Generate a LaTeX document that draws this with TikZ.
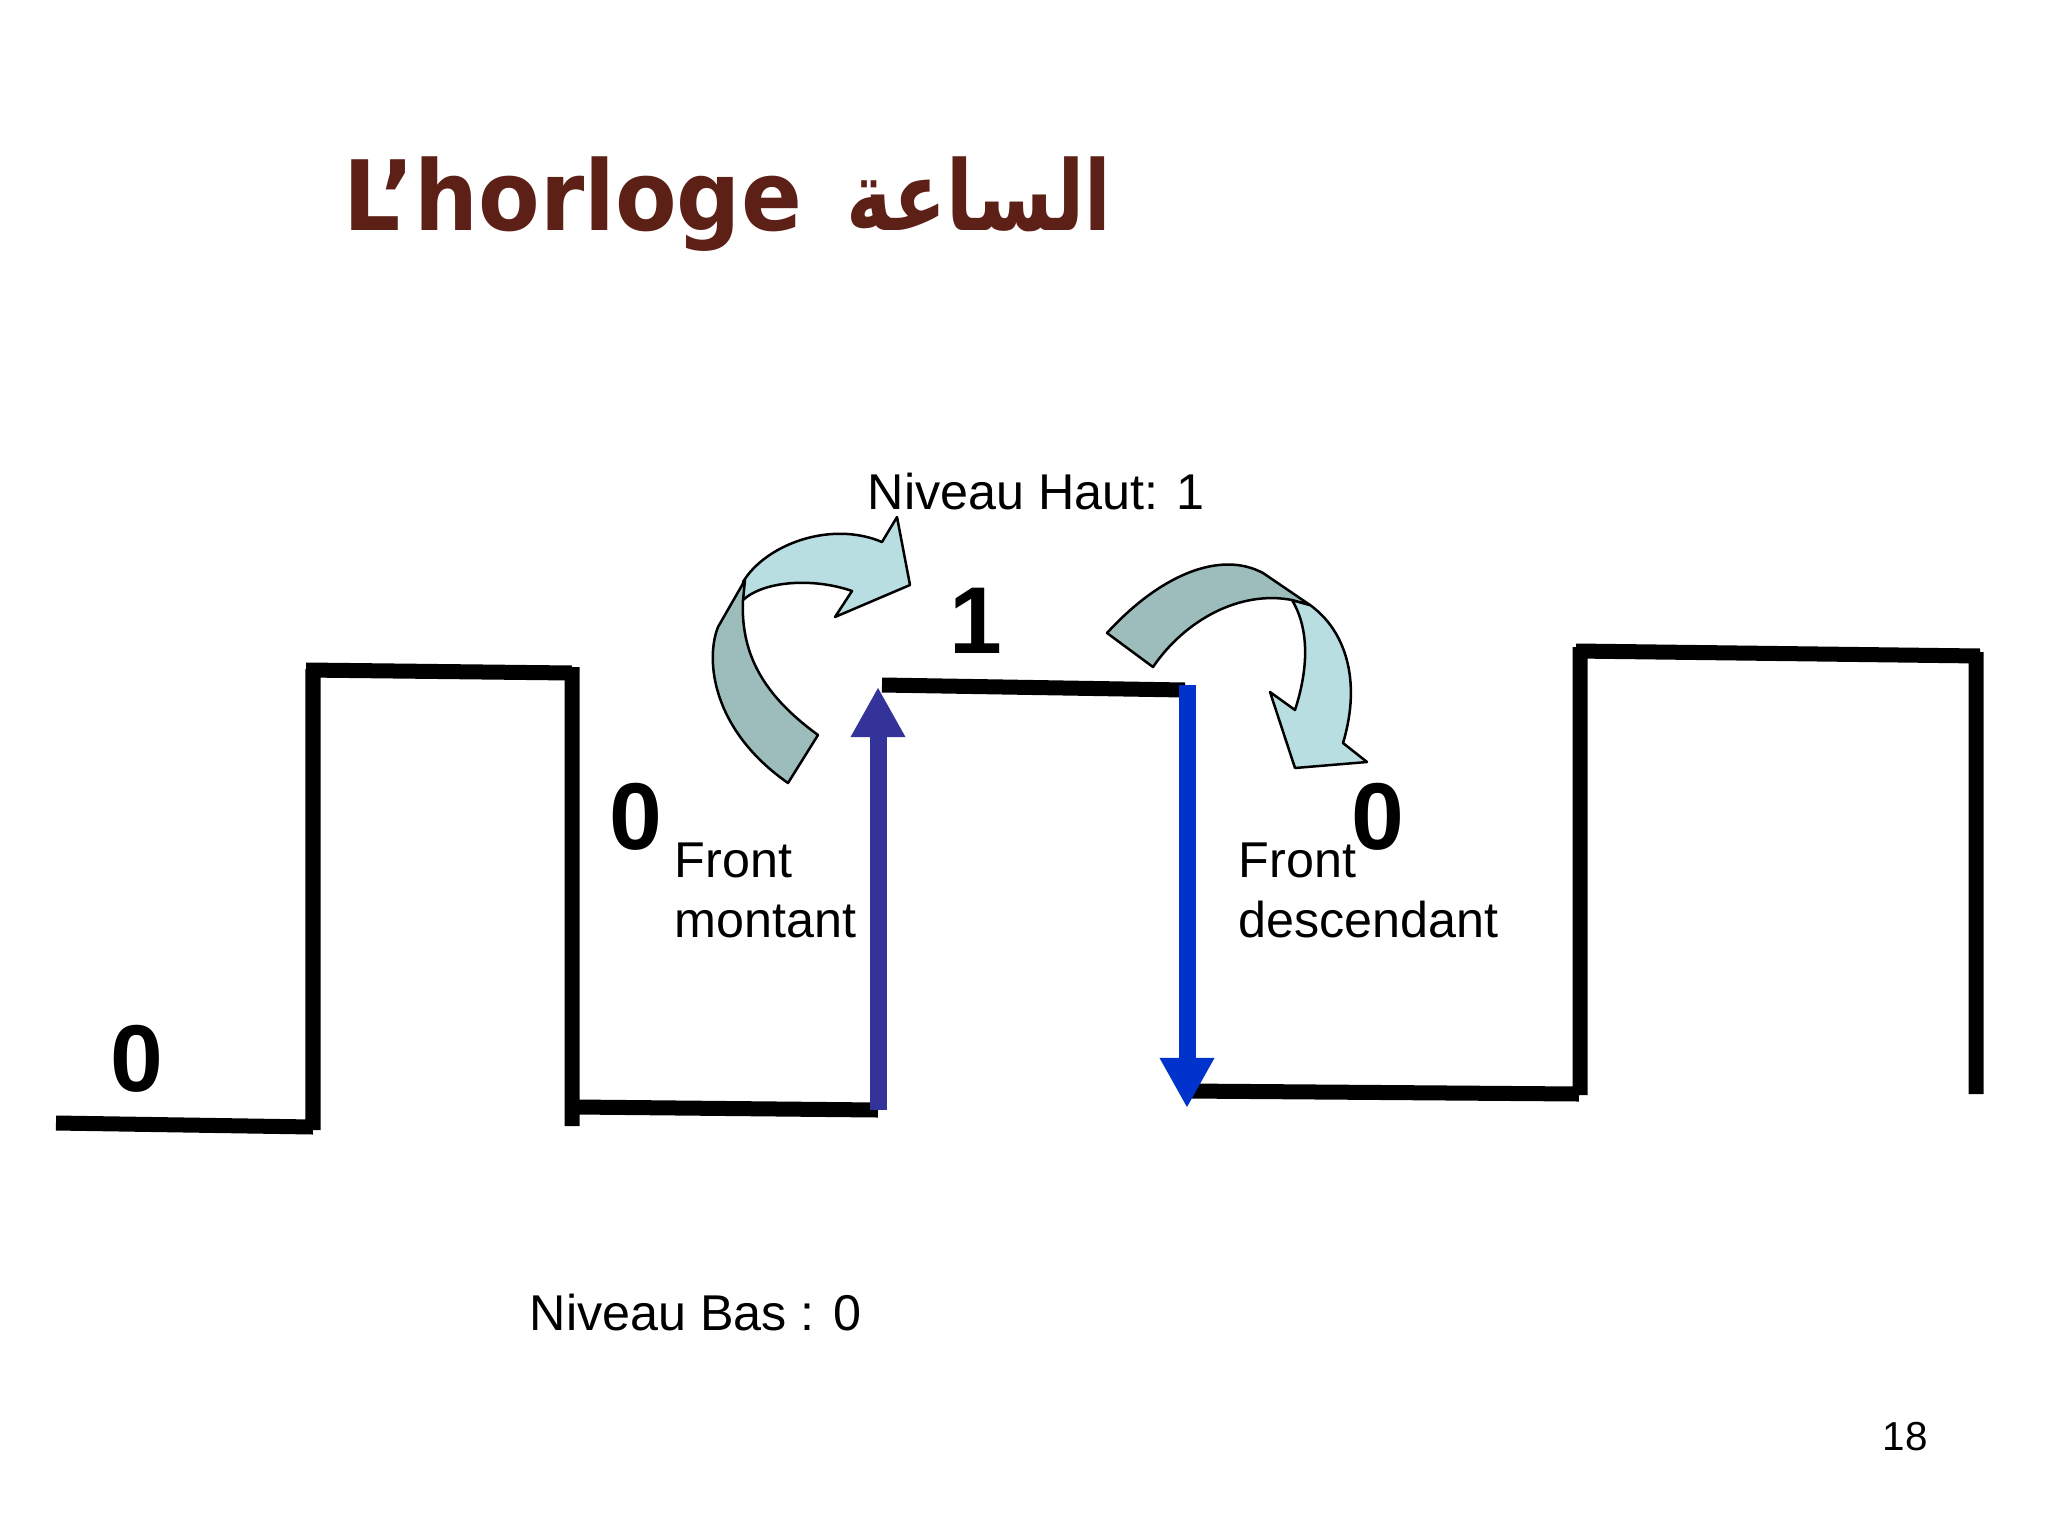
\documentclass[tikz,border=0pt]{standalone}
\usepackage{fontspec}
\setmainfont{Liberation Sans}
\newfontfamily\titlefont[FakeStretch=0.925]{DejaVu Sans}
\newfontfamily\arabicfont[Script=Arabic,FakeStretch=0.8]{DejaVu Sans}
\TeXXeTstate=1
\usepackage{tikz}
\usetikzlibrary{arrows.meta}
\definecolor{brn}{HTML}{5C2016}
\definecolor{upc}{HTML}{333399}
\definecolor{dnc}{HTML}{0033CC}
\definecolor{pale}{HTML}{B8DEE2}
\definecolor{shade}{HTML}{9CBDBB}
\tikzset{
  wave/.style={line width=1.5mm, draw=black},
  edgeup/.style={line width=1.7mm, draw=upc, -{Triangle[width=5.1mm,length=5mm]}},
  edgedn/.style={line width=1.7mm, draw=dnc, -{Triangle[width=5.1mm,length=5mm]}},
  bit/.style={font=\fontsize{27}{30}\selectfont\bfseries, inner sep=0pt},
  lbl/.style={font=\fontsize{14.3}{17}\selectfont, inner sep=0pt, align=left},
  curl/.style={draw=black, line width=0.25mm, line join=round},
}

\begin{document}
\begin{tikzpicture}[x=0.01cm, y=-0.01cm]
  \useasboundingbox (0,0) rectangle (2048,1536);
  \fill[white] (0,0) rectangle (2048,1536);
  % title
  \node[inner sep=0pt, anchor=base west, text=brn, font=\fontsize{27.6}{30}\selectfont\bfseries] (title) at (343,230)
    {\titlefont L’horloge\hspace{0.45cm}\arabicfont\beginR الساعة\endR};
  % clock signal
  \draw[wave] (56,1123) -- (313,1127)
              (313,1130) -- (313,669)
              (306,670) -- (572,673)
              (572,667) -- (572,1126)
              (577,1107) -- (878,1110)
              (882,685) -- (1185,690)
              (1187,1091) -- (1579,1094)
              (1580,1095) -- (1580,647)
              (1576,651) -- (1980,656)
              (1976,652) -- (1976,1094);
  % edges
  \coordinate (r0) at (878,1110);
  \coordinate (r1) at (878,687);
  \coordinate (f0) at (1187,685);
  \coordinate (f1) at (1187,1108);
  \draw[edgeup] (r0) -- (r1);
  \draw[edgedn] (f0) -- (f1);
  % curved arrows
  \filldraw[curl, fill=pale] (743,600) .. controls (765,580) and (815,578) .. (852,591)
    -- (835,617) -- (910,585) -- (897,517) -- (882,542)
    .. controls (830,520) and (765,545) .. (743,582) -- cycle;
  \filldraw[curl, fill=shade] (745,580) -- (718,627)
    .. controls (705,660) and (712,730) .. (788,783) -- (818,735)
    .. controls (770,700) and (740,660) .. (743,600) -- cycle;
  \filldraw[curl, fill=pale] (1292,600) -- (1310,605)
    .. controls (1345,630) and (1362,680) .. (1343,743)
    -- (1367,762) -- (1295,768) -- (1270,692) -- (1295,710)
    .. controls (1308,670) and (1310,630) .. (1292,600) -- cycle;
  \filldraw[curl, fill=shade] (1107,633) .. controls (1160,575) and (1220,550) .. (1263,573)
    -- (1310,605) -- (1292,600)
    .. controls (1240,590) and (1185,620) .. (1153,667) -- cycle;
  % levels
  \node[bit, anchor=base] (b1) at (976,653) {1};
  \node[bit, anchor=base] (b0a) at (137,1091) {0};
  \node[bit, anchor=base] (b0b) at (636,849) {0};
  \node[bit, anchor=base] (b0c) at (1378,849) {0};
  % labels
  \node[lbl, anchor=base west] (haut) at (867,509) {Niveau Haut: 1};
  \node[lbl, anchor=north west] (mont) at (674,842) {Front\\montant};
  \node[lbl, anchor=north west] (desc) at (1238,842) {Front\\descendant};
  \node[lbl, anchor=base west] (bas) at (529,1330) {Niveau Bas : 0};
  \node[inner sep=0pt, anchor=base west, font=\fontsize{11.5}{13}\selectfont] (pg) at (1882,1450) {18};
\end{tikzpicture}
\end{document}
